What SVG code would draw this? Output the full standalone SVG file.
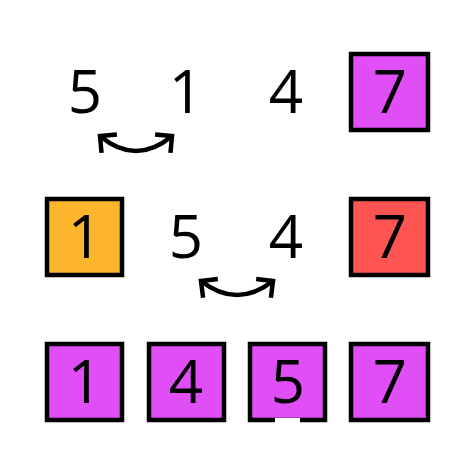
<svg xmlns="http://www.w3.org/2000/svg" width="474" height="474" viewBox="0 0 474 474">
  <style>
    .box { stroke: #000; stroke-width: 4.5; }
    .purple { fill: #E04EF6; }
    .orange { fill: #FDB52C; }
    .red { fill: #FF5552; }
    .d { font-family: "Open Sans", "DejaVu Sans", sans-serif; font-weight: 400; font-size: 60px; fill: #000; text-anchor: middle; }
    .swap { fill: none; stroke: #000; stroke-width: 4.5; marker-start: url(#chev); marker-end: url(#chev); }
  </style>
  <defs>
    <marker id="chev" markerUnits="userSpaceOnUse" markerWidth="40" markerHeight="40" refX="20" refY="20" orient="auto-start-reverse" overflow="visible">
      <path d="M8,8 L20,20 L8,32" fill="none" stroke="#000" stroke-width="4.5" stroke-linejoin="miter"/>
    </marker>
  </defs>
  <rect width="474" height="474" fill="#fff"/>

  <!-- Row 1 -->
  <g id="r1-5"><text class="d" x="85" y="113">5</text></g>
  <g id="r1-1"><text class="d" x="186" y="113">1</text></g>
  <g id="r1-4"><text class="d" x="286" y="113">4</text></g>
  <g id="r1-7"><rect class="box purple" x="351" y="54" width="77" height="76"/><text class="d" x="390" y="113">7</text></g>

  <!-- Row 2 -->
  <g id="r2-1"><rect class="box orange" x="47" y="199" width="75" height="76"/><text class="d" x="85" y="258">1</text></g>
  <g id="r2-5"><text class="d" x="186" y="258">5</text></g>
  <g id="r2-4"><text class="d" x="286" y="258">4</text></g>
  <g id="r2-7"><rect class="box red" x="351" y="199" width="77" height="76"/><text class="d" x="390" y="258">7</text></g>

  <!-- Row 3 -->
  <g id="r3-1"><rect class="box purple" x="47" y="344" width="75" height="76"/><text class="d" x="85" y="403">1</text></g>
  <g id="r3-4"><rect class="box purple" x="149" y="344" width="75" height="76"/><text class="d" x="186" y="403">4</text></g>
  <g id="r3-5"><rect class="box purple" x="250" y="344" width="75" height="76"/><rect x="275" y="418" width="25" height="5" fill="#fff"/><text class="d" x="288" y="403">5</text></g>
  <g id="r3-7"><rect class="box purple" x="351" y="344" width="77" height="76"/><text class="d" x="390" y="403">7</text></g>

  <!-- Connectors -->
  <g id="connectors">
    <path class="swap" d="M100,136 Q136,166 172,136"/>
    <path class="swap" d="M201,281 Q237,309 273,281"/>
  </g>
</svg>
